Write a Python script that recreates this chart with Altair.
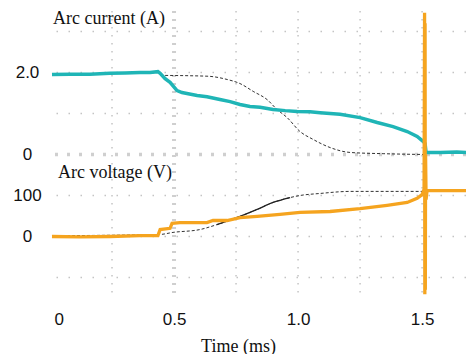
import altair as alt
import pandas as pd

# ---- data ----
# Arc current trace (cyan), time in ms, current in A
cur_t = [0.008, 0.081, 0.161, 0.242, 0.302, 0.363, 0.403, 0.435, 0.444, 0.464, 0.484,
         0.512, 0.532, 0.552, 0.593, 0.633, 0.685, 0.726, 0.766, 0.806, 0.847, 0.899,
         0.948, 0.996, 1.048, 1.089, 1.169, 1.250, 1.319, 1.383, 1.440, 1.480, 1.504,
         1.512, 1.516, 1.573, 1.640, 1.710]
cur_a = [1.95, 1.96, 1.96, 1.98, 1.99, 2.00, 2.00, 2.02, 1.98, 1.85, 1.76,
         1.56, 1.51, 1.49, 1.44, 1.41, 1.34, 1.29, 1.22, 1.17, 1.15, 1.10,
         1.07, 1.05, 1.04, 1.02, 0.98, 0.90, 0.78, 0.68, 0.56, 0.44, 0.32,
         0.27, 0.05, 0.05, 0.06, 0.04]

# Model current (dashed black)
mcur_t = [0.444, 0.633, 0.714, 0.766, 0.819, 0.875, 0.915, 0.956, 1.008, 1.060,
          1.129, 1.210, 1.343, 1.512]
mcur_a = [1.93, 1.91, 1.83, 1.73, 1.54, 1.34, 1.10, 0.90, 0.56, 0.37,
          0.17, 0.05, 0.02, 0.00]

# Arc voltage trace (orange), V
vol_t = [0.008, 0.121, 0.242, 0.363, 0.435, 0.444, 0.484, 0.492, 0.524, 0.633,
         0.657, 0.714, 0.766, 0.835, 0.927, 1.008, 1.129, 1.250, 1.359, 1.440,
         1.480, 1.500, 1.508, 1.510, 1.511, 1.512, 1.513, 1.514, 1.515, 1.516,
         1.520, 1.600, 1.710]
vol_v = [0, -1, 0, 2, 2, 17, 20, 32, 34, 34,
         39, 39, 46, 49, 54, 59, 61, 68, 76, 83,
         93, 102, 115, 546, -141, 520, -130, 200, 150, 90,
         112, 112, 112]

# Model voltage (black, dashed with solid middle)
mvol_t = [0.008, 0.363, 0.444, 0.496, 0.605, 0.673, 0.766, 0.835, 0.899, 0.968,
          1.008, 1.089, 1.210, 1.710]
mvol_v = [2, 4, 5, 10, 17, 29, 49, 66, 83, 95,
          100, 105, 110, 110]
solid_from, solid_to = 0.62, 0.97

x_ticks = [0, 0.5, 1.0, 1.5]
grid_t = [0.25, 0.75, 1.0, 1.25, 1.5]
center_t = [0.5]
grid_div = [-1, 0, 1, 3, 4, 5]
center_div = [2]

# current in divisions: 1 A / div, zero at div 2 ; voltage: 100 V / div, zero at div 0
cur = pd.DataFrame({"t": cur_t, "y": [2 + a for a in cur_a]})
mcur = pd.DataFrame({"t": mcur_t, "y": [2 + a for a in mcur_a]})
vol = pd.DataFrame({"t": vol_t, "y": [v / 100 for v in vol_v]})
mvol = pd.DataFrame({"t": mvol_t, "y": [v / 100 for v in mvol_v]})
mvol_solid = mvol[(mvol.t >= solid_from) & (mvol.t <= solid_to)]

XD = [0, 1.677]
YD = [-1.5, 5.5]


def X():
    return alt.X("t:Q", scale=alt.Scale(domain=XD, nice=False, zero=False),
                 axis=alt.Axis(values=x_ticks, grid=False, domain=False, ticks=False,
                               labelExpr="datum.value == 0 ? '0' : format(datum.value, '.1f')",
                               labelOffset={"condition": {"test": "datum.value == 0", "value": 4},
                                            "value": 0},
                               labelFont="Liberation Sans", labelFontSize=17, labelColor="#111",
                               labelBaseline="top", labelPadding=13,
                               title="Time (ms)", titleFont="Liberation Serif", titleFontSize=18,
                               titleFontWeight="normal", titleColor="#111",
                               titleBaseline="alphabetic", titleAlign="center",
                               titleX=188, titleY=53))


def Y():
    return alt.Y("y:Q", scale=alt.Scale(domain=YD, nice=False, zero=False),
                 axis=alt.Axis(values=[0, 1, 2, 4], grid=False, domain=False, ticks=False,
                               labelExpr="datum.value == 4 ? '2.0' : (datum.value == 1 ? '100' : '0')",
                               labelFont="Liberation Sans", labelFontSize=17, labelColor="#111",
                               labelAlign="center", labelBaseline="middle", labelPadding=23,
                               title=None))


vgrid = alt.Chart(pd.DataFrame({"t": grid_t})).mark_rule(
    color="#c4c4c4", strokeWidth=1.5, strokeDash=[1.5, 6.5]).encode(x=X())
vcenter = alt.Chart(pd.DataFrame({"t": center_t})).mark_rule(
    color="#cfcfcf", strokeWidth=4, strokeDash=[2, 6]).encode(x=X())
hgrid = alt.Chart(pd.DataFrame({"y": grid_div})).mark_rule(
    color="#c4c4c4", strokeWidth=1.5, strokeDash=[1.5, 10.5]).encode(y=Y())
hcenter = alt.Chart(pd.DataFrame({"y": center_div})).mark_rule(
    color="#cfcfcf", strokeWidth=3.5, strokeDash=[3, 9]).encode(y=Y())

model_c = alt.Chart(mcur).mark_line(color="#333333", strokeWidth=1, strokeDash=[3, 2],
                                    interpolate="monotone").encode(x=X(), y=Y())
model_v = alt.Chart(mvol).mark_line(color="#333333", strokeWidth=1, strokeDash=[3, 2],
                                    interpolate="monotone").encode(x=X(), y=Y())
model_vs = alt.Chart(mvol_solid).mark_line(color="#222222", strokeWidth=1.3,
                                           interpolate="monotone").encode(x=X(), y=Y())

cur_line = alt.Chart(cur).mark_line(color="#1FB5B6", strokeWidth=3.5, clip=True).encode(x=X(), y=Y())
vol_line = alt.Chart(vol).mark_line(color="#F5A41F", strokeWidth=3.3, clip=True).encode(x=X(), y=Y())

labels = pd.DataFrame({"txt": ["Arc current (A)", "Arc voltage (V)"]})
lab_c = alt.Chart(labels.iloc[[0]]).mark_text(
    font="Liberation Serif", fontSize=18, align="left", baseline="alphabetic", color="#111"
).encode(text="txt:N", x=alt.value(3), y=alt.value(12.5))
lab_v = alt.Chart(labels.iloc[[1]]).mark_text(
    font="Liberation Serif", fontSize=18, align="left", baseline="alphabetic", color="#111"
).encode(text="txt:N", x=alt.value(8), y=alt.value(166.5))

chart = alt.layer(vgrid, vcenter, hgrid, hcenter, model_c, model_v, model_vs,
                  cur_line, vol_line, lab_c, lab_v).properties(
    width=416, height=287,
    autosize=alt.AutoSizeParams(type="none"),
    padding={"left": 42, "top": 3, "right": 0, "bottom": 56},
    background="white",
).configure_view(stroke=None)

chart.save("out.html", embed_options={"renderer": "svg", "actions": False})
